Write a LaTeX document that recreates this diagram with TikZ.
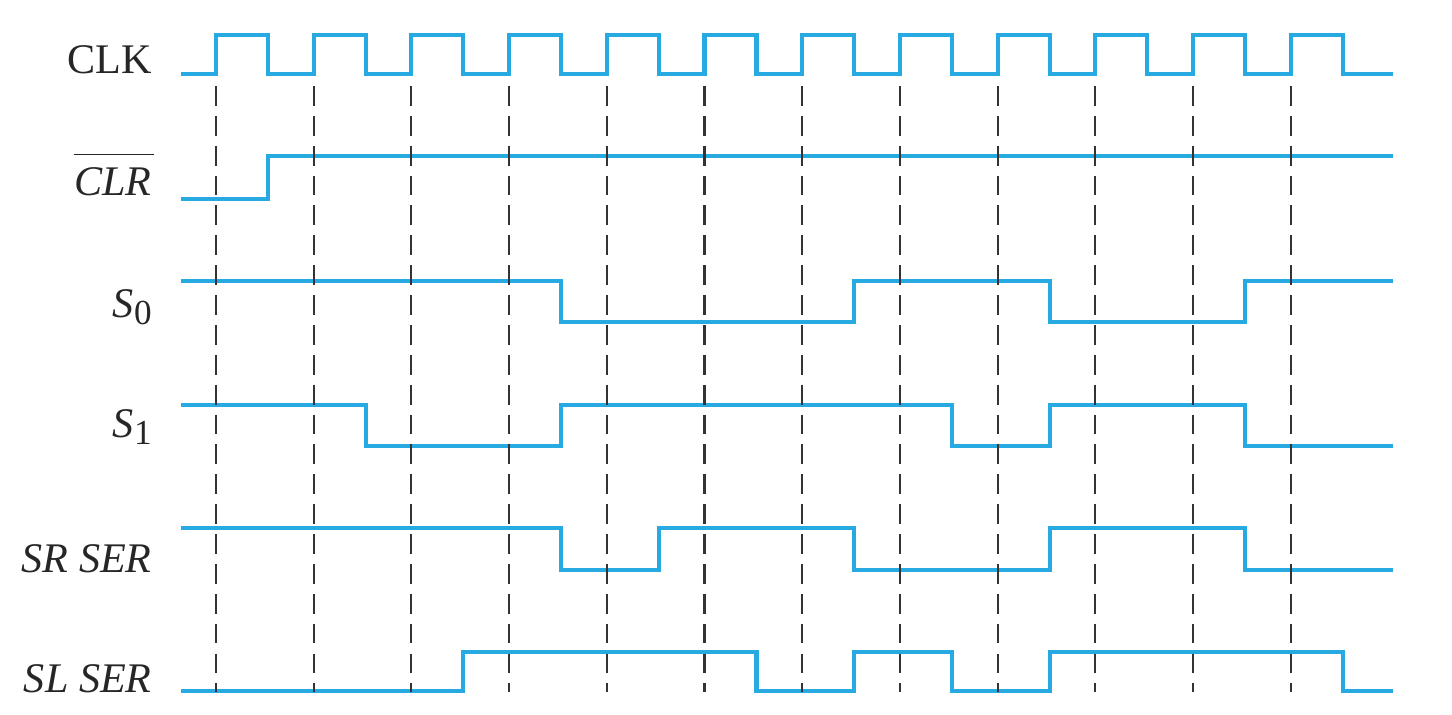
\documentclass[tikz,border=0pt]{standalone}
\usepackage{fontspec}
\setmainfont{Liberation Serif}
\usepackage{tikz}
\definecolor{sigblue}{RGB}{39,170,225}

\begin{document}
\begin{tikzpicture}[x=0.02cm,y=-0.02cm,line join=miter,
    wave/.style={sigblue,line width=2.3pt},
    edge/.style={black!80,line width=1.2pt,dash pattern=on 11.3pt off 5.7pt},
    lbl/.style={anchor=base east,inner sep=0pt,text=black!85,font=\fontsize{24}{28}\selectfont}]
    \useasboundingbox (0,0) rectangle (1452,714);
    \def\per{97.7}

    % labels
    \node[lbl] (clk) at (152,73) {CLK};
    \node[lbl] (clr) at (152,195) {\textit{CLR}};
    \draw[black!85,line width=0.8pt] ([yshift=6.8pt]clr.north west) -- ([yshift=6.8pt,xshift=1pt]clr.north east);
    \node[lbl] (s0) at (152,317) {\textit{S}\raisebox{-4.5pt}{\fontsize{20}{24}\selectfont 0}};
    \node[lbl] (s1) at (152,437) {\textit{S}\raisebox{-4.5pt}{\fontsize{20}{24}\selectfont 1}};
    \node[lbl] (srser) at (152,572) {\textit{SR SER}};
    \node[lbl] (slser) at (152,692) {\textit{SL SER}};

    % waveforms
    \draw[wave] (181,74) foreach \k in {0,...,11} {-| ({216+\per*\k},35) -| ({268+\per*\k},74)} -- (1393,74);
    \draw[wave] (181,199) -| (268,156) -- (1393,156);
    \draw[wave] (181,281) -| (561.1,322) -| (854.2,281) -| (1049.6,322) -| (1245,281) -- (1393,281);
    \draw[wave] (181,405) -| (365.7,446) -| (561.1,405) -| (951.9,446) -| (1049.6,405) -| (1245,446) -- (1393,446);
    \draw[wave] (181,528) -| (561.1,570) -| (658.8,528) -| (854.2,570) -| (1049.6,528) -| (1245,570) -- (1393,570);
    \draw[wave] (181,691) -| (463.4,652) -| (756.5,691) -| (854.2,652) -| (951.9,691) -| (1049.6,652) -| (1342.7,691) -- (1393,691);

    % rising edges
    \foreach \k in {0,...,11}
        \draw[edge] ({216+\per*\k},86) -- ({216+\per*\k},692);
\end{tikzpicture}
\end{document}
